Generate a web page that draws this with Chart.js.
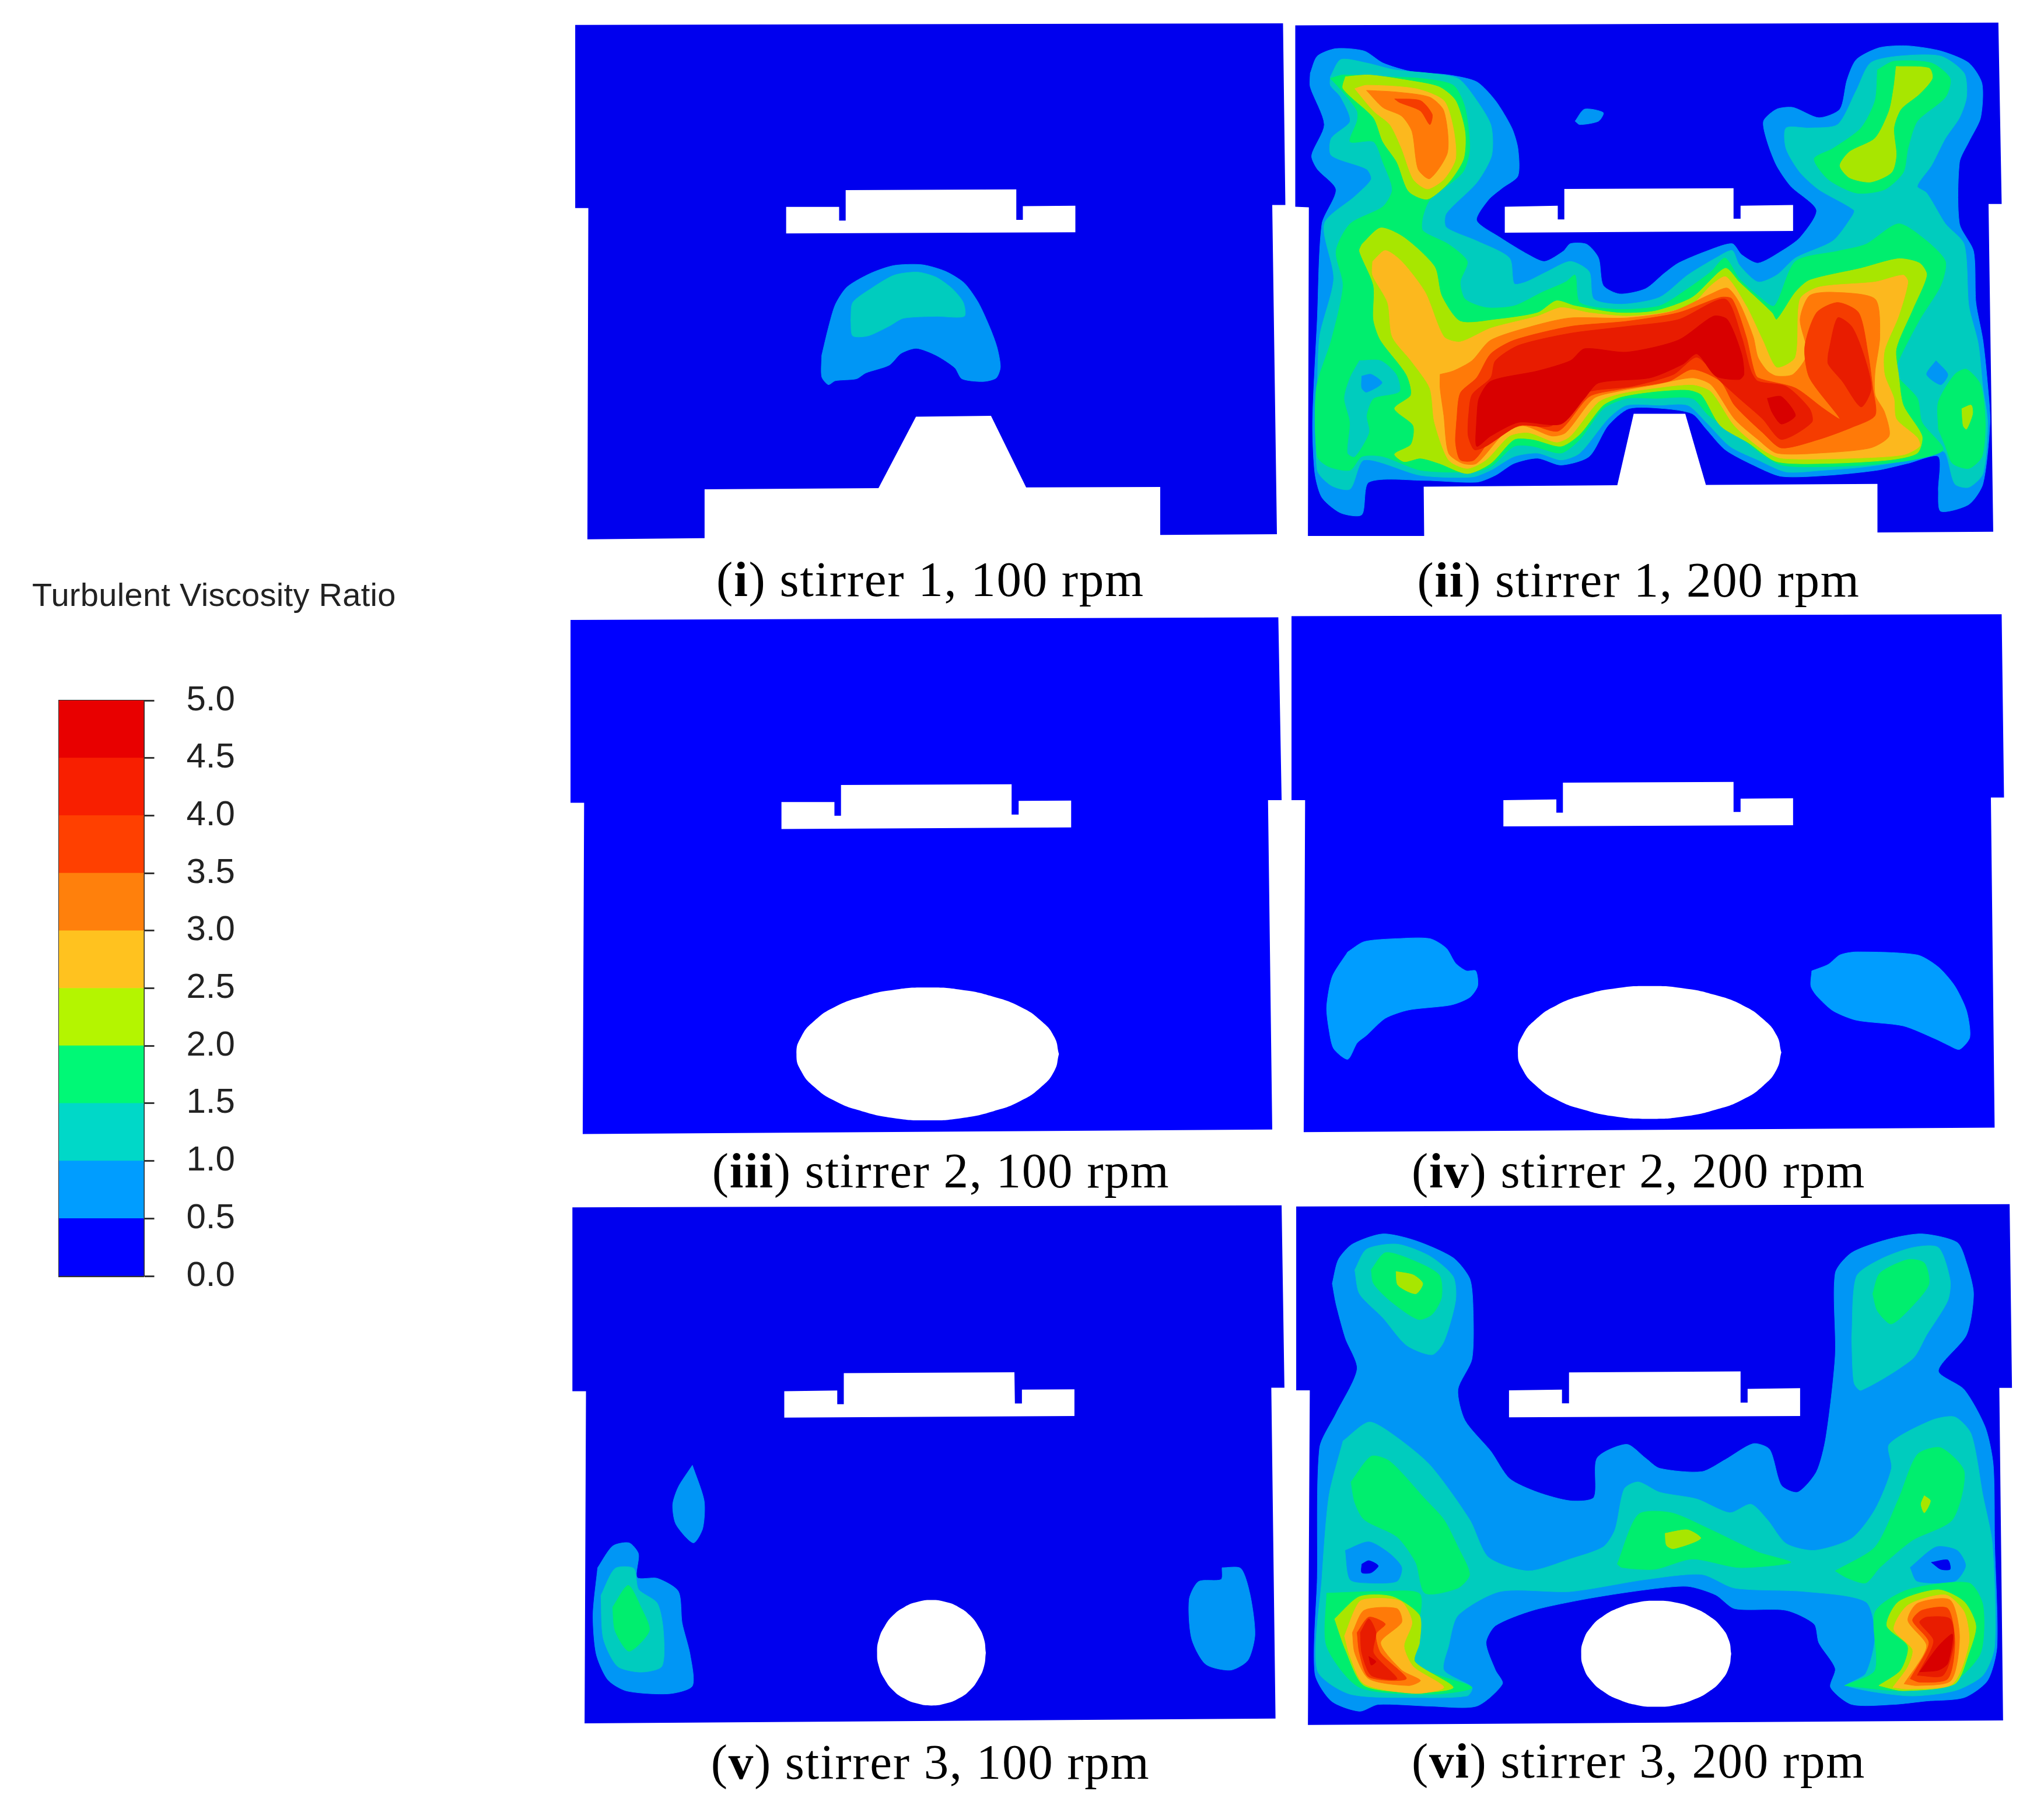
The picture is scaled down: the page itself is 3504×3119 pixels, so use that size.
<!DOCTYPE html>
<html>
<head>
<meta charset="utf-8">
<title>Turbulent Viscosity Ratio</title>
<script src="https://cdn.jsdelivr.net/npm/chart.js@4/dist/chart.umd.min.js"></script>
<style>
html, body { margin: 0; padding: 0; background: #fff; }
#page { position: relative; width: 3504px; height: 3119px; overflow: hidden; }
canvas { position: absolute; }
.caption { position: absolute; transform: translateX(-50%); white-space: nowrap; font: 85px/100px "Liberation Serif", serif; letter-spacing: 1.7px; color: #000; }
#barTitle { position: absolute; left: 55px; top: 988px; white-space: nowrap; font: 56px/64px "Liberation Sans", sans-serif; letter-spacing: 0.3px; color: #222; }
</style>
</head>
<body>
<div id="page"><div id="barTitle"></div></div>
<script>
// colour bar
const barTitle = 'Turbulent Viscosity Ratio';
const tickLabels = ['0.0', '0.5', '1.0', '1.5', '2.0', '2.5', '3.0', '3.5', '4.0', '4.5', '5.0'];
const barSteps = [0.5, 0.5, 0.5, 0.5, 0.5, 0.5, 0.5, 0.5, 0.5, 0.5];
const barColors = ['#0000ff', '#009dff', '#00d8c8', '#00f876', '#b4f500', '#ffc21f', '#ff800c', '#ff4000', '#f81f00', '#e80000'];

// contour colours of the panels, index = band of the colour bar
const dimBands = ['#0000ee', '#0096f5', '#00ccbe', '#00ee6e', '#a8e600', '#fcb81e', '#ff7a08', '#f53c00', '#e81c00', '#d80000'];
const brightBands = ['#0000ff', '#009dff'];

const captionLabels = [['i', ' stirrer 1, 100 rpm'], ['ii', ' stirrer 1, 200 rpm'], ['iii', ' stirrer 2, 100 rpm'], ['iv', ' stirrer 2, 200 rpm'], ['v', ' stirrer 3, 100 rpm'], ['vi', ' stirrer 3, 200 rpm']];

// each panel: outline of the tank, [band, outline] contour bands, then the white solids
const outline1 = [[20,34],[1530,30],[1535,495],[1507,495],[1517,1338],[1268,1340],[1268,1217],[982,1218],[907,1035],[747,1037],[667,1220],[296,1223],[296,1348],[46,1351],[48,503],[20,503]];
const bands1 = [
  [1, [[546,880],[560,810],[575,750],[600,705],[650,670],[700,650],[760,648],[810,665],[850,695],[880,745],[905,810],[920,860],[927,910],[918,938],[890,947],[845,940],[830,912],[790,880],[748,862],[715,875],[690,905],[640,925],[620,940],[575,945],[560,955],[546,935]]],
  [2, [[608,790],[612,745],[650,710],[700,675],[750,667],[790,680],[825,710],[848,745],[850,780],[790,780],[720,785],[690,805],[645,830],[612,830]]]
];
const solids1 = [[[470,500],[583,500],[583,535],[597,535],[597,457],[961,455],[961,533],[975,533],[975,498],[1087,497],[1087,565],[470,568]]];

const outline2 = [[13,40],[1513,32],[1520,562],[1492,562],[1502,1520],[1255,1522],[1255,1380],[889,1383],[845,1175],[735,1175],[700,1384],[287,1388],[288,1532],[40,1532],[42,572],[13,570]];
const bands2 = [
  [1, [[610,320],[630,285],[670,295],[660,320],[620,330]]],
  [1, [[45,180],[60,130],[100,108],[160,115],[200,150],[260,175],[340,185],[400,205],[440,260],[475,340],[488,400],[488,480],[455,515],[425,550],[400,610],[450,660],[510,710],[545,730],[585,700],[600,678],[635,680],[660,720],[670,800],[705,825],[760,810],[800,765],[830,735],[890,700],[945,678],[965,710],[1000,735],[1050,700],[1090,660],[1125,580],[1070,510],[1040,450],[1020,380],[1012,320],[1040,285],[1075,280],[1130,310],[1175,285],[1190,200],[1210,140],[1260,105],[1320,100],[1390,115],[1450,150],[1478,210],[1475,310],[1450,380],[1430,440],[1430,620],[1460,700],[1465,850],[1480,960],[1490,1090],[1495,1200],[1480,1380],[1450,1440],[1390,1460],[1385,1400],[1385,1300],[1320,1320],[1255,1340],[1150,1355],[1050,1358],[990,1325],[930,1280],[890,1220],[860,1175],[800,1160],[725,1160],[680,1210],[640,1300],[580,1325],[530,1305],[480,1320],[440,1355],[400,1375],[290,1370],[170,1375],[155,1470],[110,1465],[70,1420],[55,1350],[50,1200],[60,900],[70,620],[100,520],[60,460],[48,420],[75,330],[45,220]]],
  [2, [[88,190],[110,140],[165,150],[225,170],[300,180],[360,195],[390,240],[430,330],[432,420],[400,500],[335,590],[335,630],[400,670],[470,720],[480,795],[505,790],[550,760],[600,730],[640,760],[650,840],[710,855],[790,835],[850,770],[910,720],[945,698],[960,740],[1000,790],[1040,770],[1080,720],[1160,670],[1200,600],[1205,580],[1130,520],[1090,470],[1060,400],[1060,340],[1110,340],[1170,330],[1210,230],[1240,150],[1300,130],[1390,130],[1440,180],[1445,250],[1430,310],[1400,370],[1370,450],[1340,510],[1360,530],[1400,620],[1440,680],[1450,860],[1470,970],[1480,1100],[1490,1200],[1480,1350],[1450,1390],[1420,1380],[1400,1290],[1380,1280],[1320,1310],[1230,1330],[1140,1340],[1060,1345],[1000,1310],[940,1270],[890,1200],[850,1150],[790,1150],[720,1150],[680,1190],[620,1290],[580,1310],[530,1290],[480,1300],[430,1340],[390,1360],[280,1355],[160,1310],[130,1395],[90,1385],[60,1340],[60,1150],[65,950],[95,780],[75,620],[140,540],[175,490],[165,460],[90,420],[90,370],[130,320],[110,250],[88,215]]],
  [3, [[1255,170],[1290,145],[1370,150],[1410,195],[1400,250],[1340,320],[1320,400],[1310,470],[1270,520],[1210,530],[1150,490],[1120,430],[1160,400],[1220,340],[1250,260]]],
  [3, [[88,195],[115,185],[200,190],[280,195],[350,215],[375,280],[385,400],[370,470],[300,550],[285,600],[285,640],[340,680],[380,730],[365,790],[375,840],[420,865],[480,860],[540,820],[590,790],[610,770],[620,850],[700,870],[790,860],[850,810],[900,760],[930,720],[960,780],[1000,830],[1035,860],[1080,730],[1170,700],[1230,680],[1300,620],[1360,670],[1400,730],[1390,800],[1345,900],[1300,1020],[1295,1060],[1340,1130],[1350,1200],[1395,1280],[1330,1310],[1230,1325],[1130,1330],[1050,1325],[1000,1285],[960,1240],[895,1180],[860,1130],[780,1130],[720,1130],[670,1160],[620,1250],[580,1290],[520,1270],[480,1270],[430,1330],[390,1345],[280,1340],[200,1300],[155,1300],[130,1340],[85,1330],[60,1300],[58,1100],[90,960],[115,800],[100,700],[130,620],[200,570],[220,520],[200,440],[180,380],[130,380],[145,320],[145,290],[115,235]]],
  [3, [[1385,1220],[1385,1140],[1420,1060],[1445,1045],[1475,1090],[1485,1200],[1478,1300],[1450,1335],[1415,1320],[1400,1270]]],
  [4, [[1435,1160],[1455,1150],[1458,1175],[1445,1220],[1438,1210]]],
  [2, [[150,1020],[195,1020],[228,1060],[235,1110],[180,1130],[165,1180],[170,1230],[140,1300],[125,1290],[130,1200],[118,1130],[130,1070]]],
  [1, [[155,1065],[175,1060],[198,1085],[165,1112],[155,1100]]],
  [1, [[1380,1020],[1405,1060],[1390,1090],[1360,1060]]],
  [4, [[120,190],[170,185],[250,200],[320,220],[355,260],[375,350],[372,430],[340,500],[295,548],[255,525],[230,440],[200,380],[180,310],[115,225]]],
  [4, [[1295,160],[1365,165],[1372,195],[1345,240],[1305,285],[1290,340],[1295,420],[1285,470],[1240,498],[1195,485],[1175,450],[1195,410],[1250,370],[1280,290],[1290,220]]],
  [4, [[155,680],[195,632],[245,660],[310,745],[325,830],[365,905],[440,900],[530,880],[570,845],[610,860],[700,880],[780,875],[860,835],[930,750],[960,790],[1030,880],[1040,900],[1080,820],[1110,785],[1220,750],[1300,722],[1345,735],[1360,770],[1330,870],[1295,985],[1300,1060],[1310,1150],[1350,1240],[1340,1290],[1280,1310],[1150,1320],[1040,1315],[980,1260],[920,1210],[880,1120],[850,1105],[780,1110],[710,1125],[670,1150],[620,1235],[580,1270],[520,1250],[480,1250],[430,1320],[380,1350],[320,1320],[280,1305],[245,1315],[225,1293],[260,1265],[265,1210],[225,1160],[260,1120],[250,1060],[195,960],[180,900],[180,800],[150,700]]],
  [5, [[140,225],[165,215],[270,225],[330,260],[350,340],[355,430],[330,490],[295,518],[265,490],[240,400],[215,330],[180,290]]],
  [5, [[178,730],[205,698],[240,730],[290,820],[330,950],[365,965],[430,925],[530,890],[580,865],[640,880],[720,890],[800,880],[860,855],[900,800],[932,775],[975,860],[1010,960],[1040,1040],[1080,1010],[1090,840],[1130,805],[1250,790],[1310,770],[1320,790],[1300,890],[1270,990],[1270,1060],[1290,1130],[1295,1190],[1340,1245],[1345,1270],[1310,1295],[1200,1305],[1050,1305],[1010,1280],[950,1210],[900,1110],[860,1090],[780,1100],[710,1115],[660,1140],[600,1240],[570,1258],[510,1230],[470,1240],[420,1310],[380,1335],[340,1310],[310,1200],[300,1100],[260,1020],[220,950],[210,850],[178,770]]],
  [6, [[165,230],[230,235],[300,250],[330,290],[338,410],[300,488],[275,460],[262,350],[240,305],[200,280]]],
  [6, [[322,1060],[350,1050],[390,1020],[430,960],[530,915],[600,895],[720,895],[820,875],[900,825],[935,808],[960,850],[990,950],[1000,1010],[1020,1050],[1040,1065],[1075,1060],[1105,1000],[1090,900],[1110,830],[1160,820],[1250,840],[1260,950],[1250,1050],[1250,1120],[1270,1170],[1280,1240],[1240,1275],[1130,1290],[1040,1290],[1000,1250],[950,1190],[900,1090],[860,1070],[780,1090],[700,1110],[650,1130],[590,1230],[560,1240],[500,1210],[460,1230],[400,1320],[370,1320],[340,1290],[330,1180],[322,1100]]],
  [7, [[225,255],[280,260],[305,300],[300,330],[280,290],[235,265]]],
  [7, [[357,1200],[365,1115],[400,1070],[430,1000],[480,960],[600,920],[720,905],[830,880],[920,835],[945,840],[975,950],[990,1040],[1000,1070],[1080,1100],[1140,1160],[1175,1190],[1110,1070],[1100,980],[1125,880],[1170,850],[1215,880],[1235,1000],[1245,1100],[1250,1180],[1200,1215],[1130,1250],[1050,1275],[1010,1230],[950,1150],[920,1080],[860,1045],[810,1080],[700,1105],[640,1125],[575,1225],[510,1205],[450,1215],[395,1310],[365,1310],[355,1260]]],
  [8, [[1150,1000],[1170,895],[1200,920],[1225,1000],[1242,1100],[1220,1155],[1180,1080],[1150,1030]]],
  [8, [[382,1190],[390,1120],[430,1070],[440,1020],[490,975],[600,940],[720,920],[830,900],[930,840],[965,950],[985,1050],[1000,1080],[1060,1095],[1110,1160],[1115,1200],[1050,1250],[1010,1190],[960,1130],[920,1080],[870,1010],[820,1060],[730,1095],[630,1115],[560,1210],[490,1210],[420,1270],[395,1280],[382,1240]]],
  [9, [[400,1190],[405,1130],[430,1080],[530,1050],[600,1020],[630,985],[720,995],[830,960],[905,890],[935,900],[965,1000],[970,1060],[960,1075],[910,1065],[870,1000],[840,1030],[770,1070],[660,1085],[630,1130],[580,1205],[490,1200],[430,1240],[400,1270]]],
  [9, [[1020,1130],[1050,1125],[1080,1180],[1050,1205],[1030,1170]]]
];
const solids2 = [[[460,570],[573,567],[573,607],[587,607],[587,518],[948,516],[948,605],[963,605],[963,567],[1075,565],[1075,641],[460,646]]];

const outline3 = [[10,20],[1520,13],[1527,495],[1498,495],[1507,1363],[36,1375],[39,502],[10,502]];
const bands3 = [];
const solids3 = [
  [[460,500],[573,500],[573,536],[587,536],[587,455],[951,453],[951,533],[966,533],[966,497],[1078,496],[1078,567],[460,571]],
  [[1052,1164],[1042,1209],[1014,1251],[970,1288],[912,1315],[844,1333],[772,1339],[700,1333],[632,1315],[574,1288],[530,1251],[502,1209],[492,1164],[502,1119],[530,1077],[574,1040],[632,1013],[700,995],[772,989],[844,995],[912,1013],[970,1040],[1014,1077],[1042,1119]]
];

const outline4 = [[5,10],[1520,5],[1525,488],[1497,488],[1505,1358],[31,1370],[34,495],[5,495]];
const bands4 = [
  [1, [[125,895],[160,868],[230,860],[300,860],[335,885],[355,925],[378,945],[398,945],[402,985],[385,1015],[345,1035],[255,1048],[205,1070],[165,1115],[145,1135],[125,1178],[95,1150],[85,1100],[80,1040],[92,960]]],
  [1, [[1115,945],[1150,928],[1175,903],[1210,895],[1340,903],[1385,935],[1420,985],[1445,1050],[1452,1120],[1430,1152],[1405,1140],[1380,1125],[1310,1090],[1210,1075],[1160,1050],[1125,1010],[1113,985]]]
];
const solids4 = [
  [[457,495],[570,493],[570,528],[584,528],[584,449],[948,447],[948,526],[963,526],[963,491],[1075,490],[1075,561],[457,564]],
  [[1050,1160],[1040,1205],[1012,1247],[968,1284],[910,1311],[842,1329],[769,1335],[696,1329],[628,1311],[570,1284],[526,1247],[498,1205],[488,1160],[498,1115],[526,1073],[570,1036],[628,1009],[696,991],[769,985],[842,991],[910,1009],[968,1036],[1012,1073],[1040,1115]]
];

const outline5 = [[14,15],[1527,10],[1533,473],[1505,473],[1514,1313],[40,1325],[43,482],[14,482]];
const bands5 = [
  [1, [[68,930],[100,875],[135,867],[155,895],[152,955],[195,957],[240,990],[248,1070],[265,1150],[270,1230],[220,1250],[130,1243],[90,1215],[65,1150],[58,1050]]],
  [1, [[270,670],[295,760],[292,830],[272,867],[235,820],[228,770],[240,725]]],
  [1, [[1400,930],[1440,932],[1460,1000],[1470,1100],[1455,1165],[1418,1190],[1365,1175],[1335,1110],[1330,1010],[1350,965],[1398,960]]],
  [2, [[75,1000],[105,932],[145,932],[155,985],[195,1020],[208,1090],[205,1180],[160,1195],[110,1180],[80,1110]]],
  [3, [[100,1030],[133,975],[160,1030],[178,1090],[135,1142],[105,1090]]]
];
const solids5 = [
  [[466,482],[579,480],[579,515],[593,515],[593,436],[957,434],[958,513],[973,513],[973,478],[1085,477],[1085,545],[466,549]],
  [[896,1146],[892,1181],[880,1213],[862,1241],[838,1262],[810,1275],[780,1280],[750,1275],[722,1262],[698,1241],[680,1213],[668,1181],[664,1146],[668,1111],[680,1079],[698,1051],[722,1030],[750,1017],[780,1012],[810,1017],[838,1030],[862,1051],[880,1079],[892,1111]]
];

const outline6 = [[15,15],[1537,8],[1542,545],[1515,545],[1523,1517],[40,1530],[44,552],[15,552]];
const bands6 = [
  [1, [[92,240],[105,170],[135,125],[200,95],[270,115],[350,165],[385,225],[392,300],[390,460],[360,550],[375,640],[430,730],[470,810],[530,850],[600,875],[650,865],[657,750],[720,710],[760,750],[790,780],[880,790],[930,755],[990,708],[1025,725],[1050,830],[1085,850],[1125,790],[1145,690],[1165,450],[1165,210],[1200,150],[1280,110],[1350,95],[1425,120],[1445,180],[1460,270],[1445,390],[1385,495],[1440,550],[1485,660],[1502,770],[1505,1000],[1510,1300],[1490,1400],[1440,1450],[1360,1460],[1290,1470],[1200,1470],[1155,1420],[1165,1365],[1130,1290],[1120,1235],[1060,1195],[950,1190],[910,1150],[850,1125],[760,1135],[640,1160],[520,1195],[440,1240],[420,1290],[440,1370],[455,1410],[400,1475],[300,1475],[190,1470],[150,1490],[90,1460],[55,1380],[60,1100],[65,720],[100,620],[145,490],[120,400],[100,300]]],
  [2, [[140,200],[165,140],[230,125],[300,160],[350,220],[355,290],[330,410],[305,448],[250,420],[200,340],[150,270]]],
  [2, [[1200,400],[1210,220],[1260,170],[1330,135],[1385,135],[1410,230],[1405,290],[1360,390],[1330,460],[1220,552],[1205,530]]],
  [2, [[115,700],[170,645],[220,680],[300,770],[385,930],[425,1040],[510,1080],[600,1045],[670,1010],[695,960],[715,840],[745,820],[790,850],[870,870],[940,910],[985,885],[1020,930],[1060,1000],[1120,1020],[1200,985],[1250,900],[1285,780],[1280,710],[1370,640],[1420,630],[1455,680],[1480,860],[1500,1000],[1505,1300],[1480,1385],[1420,1430],[1320,1445],[1190,1415],[1230,1380],[1250,1270],[1230,1170],[1100,1140],[950,1130],[880,1090],[760,1105],[600,1140],[450,1140],[360,1210],[340,1300],[330,1370],[390,1420],[380,1445],[280,1450],[130,1440],[60,1370],[70,1100],[85,860]]],
  [1, [[120,1020],[170,995],[215,1030],[240,1070],[230,1110],[170,1115],[130,1105]]],
  [1, [[1325,1070],[1380,1010],[1425,1020],[1443,1065],[1420,1110],[1340,1110]]],
  [0, [[155,1060],[170,1050],[190,1065],[175,1085],[155,1085]]],
  [0, [[1370,1055],[1405,1048],[1410,1075],[1390,1075]]],
  [3, [[175,200],[205,150],[260,170],[320,215],[325,280],[305,330],[275,345],[215,290],[180,240]]],
  [3, [[1245,270],[1260,210],[1320,170],[1355,180],[1365,240],[1340,290],[1285,358],[1255,320]]],
  [3, [[132,820],[175,745],[215,760],[290,870],[330,930],[360,1010],[385,1090],[360,1130],[290,1145],[270,1055],[230,980],[160,930],[140,880]]],
  [3, [[700,1060],[745,915],[815,910],[900,960],[1000,1025],[1070,1055],[960,1070],[860,1045],[780,1075],[710,1070]]],
  [3, [[1165,1080],[1250,1010],[1300,870],[1340,740],[1390,720],[1440,790],[1415,930],[1330,990],[1260,1070],[1230,1115],[1190,1100]]],
  [3, [[80,1145],[200,1140],[280,1150],[270,1350],[390,1420],[310,1440],[150,1420],[80,1300]]],
  [3, [[1185,1415],[1250,1370],[1250,1200],[1320,1135],[1450,1115],[1480,1180],[1475,1320],[1420,1400],[1310,1430]]],
  [4, [[228,205],[265,215],[285,240],[270,270],[232,245]]],
  [4, [[802,970],[850,960],[878,985],[820,1015],[805,1005]]],
  [4, [[1355,860],[1368,875],[1355,910],[1348,885]]],
  [4, [[97,1220],[150,1155],[220,1155],[278,1210],[278,1290],[268,1345],[350,1420],[280,1435],[160,1415],[120,1310]]],
  [4, [[1258,1415],[1305,1370],[1320,1300],[1275,1240],[1300,1170],[1385,1135],[1440,1170],[1465,1240],[1450,1320],[1420,1410],[1310,1430]]],
  [5, [[118,1270],[150,1170],[190,1160],[240,1170],[262,1230],[245,1300],[265,1360],[330,1420],[270,1438],[160,1410],[130,1330]]],
  [5, [[1288,1420],[1320,1360],[1330,1310],[1290,1250],[1320,1180],[1400,1150],[1440,1200],[1450,1290],[1415,1410],[1320,1425]]],
  [6, [[135,1260],[160,1195],[230,1190],[240,1230],[195,1290],[240,1370],[280,1400],[255,1415],[170,1395],[140,1320]]],
  [6, [[1312,1410],[1360,1300],[1320,1225],[1340,1175],[1410,1165],[1430,1270],[1412,1400],[1340,1415]]],
  [7, [[145,1260],[170,1215],[205,1235],[185,1265],[195,1320],[250,1395],[170,1390],[150,1320]]],
  [7, [[1325,1395],[1365,1290],[1330,1225],[1350,1195],[1405,1190],[1420,1290],[1405,1395],[1345,1405]]],
  [8, [[152,1260],[170,1220],[185,1260],[180,1320],[230,1395],[175,1385],[155,1320]]],
  [8, [[1340,1385],[1375,1285],[1345,1230],[1360,1215],[1410,1220],[1418,1290],[1395,1385]]],
  [9, [[1345,1375],[1385,1300],[1415,1265],[1405,1350],[1385,1370]]],
  [9, [[170,1330],[185,1345],[175,1355]]]
];
const solids6 = [
  [[469,552],[582,550],[582,590],[597,590],[597,500],[963,497],[963,588],[978,588],[978,548],[1090,546],[1090,627],[469,631]],
  [[943,1322],[938,1362],[922,1400],[896,1432],[863,1456],[824,1472],[783,1477],[742,1472],[703,1456],[670,1432],[644,1400],[628,1362],[623,1322],[628,1282],[644,1244],[670,1212],[703,1188],[742,1172],[783,1167],[824,1172],[863,1188],[896,1212],[922,1244],[938,1282]]
];

const page = document.getElementById('page');
document.getElementById('barTitle').textContent = barTitle;

function addCanvas(left, top, width, height) {
  const c = document.createElement('canvas');
  c.width = width;
  c.height = height;
  c.style.left = left + 'px';
  c.style.top = top + 'px';
  c.style.width = width + 'px';
  c.style.height = height + 'px';
  page.appendChild(c);
  return c;
}

// one closed filled shape as a line dataset
function shape(points, color, tension, border) {
  const closed = points.concat([points[0]]);
  return {
    data: closed.map(p => ({ x: p[0], y: p[1] })),
    showLine: true,
    fill: 'shape',
    tension: tension,
    backgroundColor: color,
    borderColor: color,
    borderWidth: border,
    pointRadius: 0
  };
}

function drawPanel(box, outline, bands, solids, palette) {
  const shapes = [shape(outline, palette[0], 0, 0)];
  bands.forEach(b => shapes.push(shape(b[1], palette[b[0]], 0.25, 1)));
  // the stirrer has 12 corners, the round solids are smoothed
  solids.forEach(s => shapes.push(shape(s, '#ffffff', s.length > 12 ? 0.5 : 0, 0)));
  // chart.js paints the first dataset last
  shapes.reverse();
  new Chart(addCanvas(box[0], box[1], box[2], box[3]), {
    type: 'scatter',
    data: { datasets: shapes },
    options: {
      responsive: false,
      animation: false,
      devicePixelRatio: 1,
      events: [],
      layout: { padding: 0 },
      plugins: { legend: { display: false }, tooltip: { enabled: false } },
      scales: {
        x: { type: 'linear', display: false, min: 0, max: 1568 },
        y: { type: 'linear', display: false, min: 0, max: 1568, reverse: true }
      }
    }
  });
}

drawPanel([970, 20, 1260, 1050], outline1, bands1, solids1, dimBands);
drawPanel([2210, 20, 1260, 920], outline2, bands2, solids2, dimBands);
drawPanel([970, 1050, 1260, 1020], outline3, bands3, solids3, brightBands);
drawPanel([2210, 1050, 1260, 1020], outline4, bands4, solids4, brightBands);
drawPanel([970, 2060, 1260, 1059], outline5, bands5, solids5, dimBands);
drawPanel([2210, 2060, 1260, 920], outline6, bands6, solids6, dimBands);

// captions, bold numeral in brackets
const captionSpots = [[1595, 943], [2809, 944], [1613, 1957], [2809, 1957], [1595, 2971], [2809, 2969]];
captionLabels.forEach((c, i) => {
  const d = document.createElement('div');
  d.className = 'caption';
  d.style.left = captionSpots[i][0] + 'px';
  d.style.top = captionSpots[i][1] + 'px';
  d.append('(');
  const b = document.createElement('b');
  b.textContent = c[0];
  d.append(b, ')' + c[1]);
  page.appendChild(d);
});

// colour bar with its axis on the right
const barBorder = { display: true, color: '#333', width: 3 };
new Chart(addCanvas(60, 1170, 420, 1050), {
  type: 'bar',
  data: {
    labels: [''],
    datasets: barSteps.map((v, i) => ({ data: [v], backgroundColor: barColors[i], borderWidth: 0 }))
  },
  options: {
    responsive: false,
    animation: false,
    devicePixelRatio: 1,
    events: [],
    barPercentage: 1,
    categoryPercentage: 1,
    layout: { padding: { left: 41, top: 31, bottom: 32 } },
    plugins: { legend: { display: false }, tooltip: { enabled: false } },
    scales: {
      x: {
        stacked: true,
        ticks: { display: false },
        grid: { display: false },
        border: barBorder,
        afterFit: s => { s.height = 0; s.paddingLeft = 0; s.paddingRight = 0; }
      },
      xTop: {
        axis: 'x',
        type: 'category',
        labels: [''],
        position: 'top',
        ticks: { display: false },
        grid: { display: false },
        border: barBorder,
        afterFit: s => { s.height = 0; s.paddingLeft = 0; s.paddingRight = 0; }
      },
      y: {
        stacked: true,
        position: 'right',
        min: 0,
        max: 5,
        ticks: {
          stepSize: 0.5,
          autoSkip: false,
          padding: 55,
          color: '#222',
          font: { family: '"Liberation Sans", sans-serif', size: 60 },
          callback: (v, i) => tickLabels[i]
        },
        grid: { drawOnChartArea: false, tickLength: 18, tickWidth: 3, tickColor: '#333' },
        border: barBorder,
        afterFit: s => { s.width = 233.5; s.paddingTop = 0; s.paddingBottom = 0; }
      },
      left: {
        position: 'left',
        min: 0,
        max: 5,
        ticks: { display: false },
        grid: { display: false },
        border: barBorder,
        afterFit: s => { s.width = 0; s.paddingTop = 0; s.paddingBottom = 0; }
      }
    }
  }
});
</script>
</body>
</html>
